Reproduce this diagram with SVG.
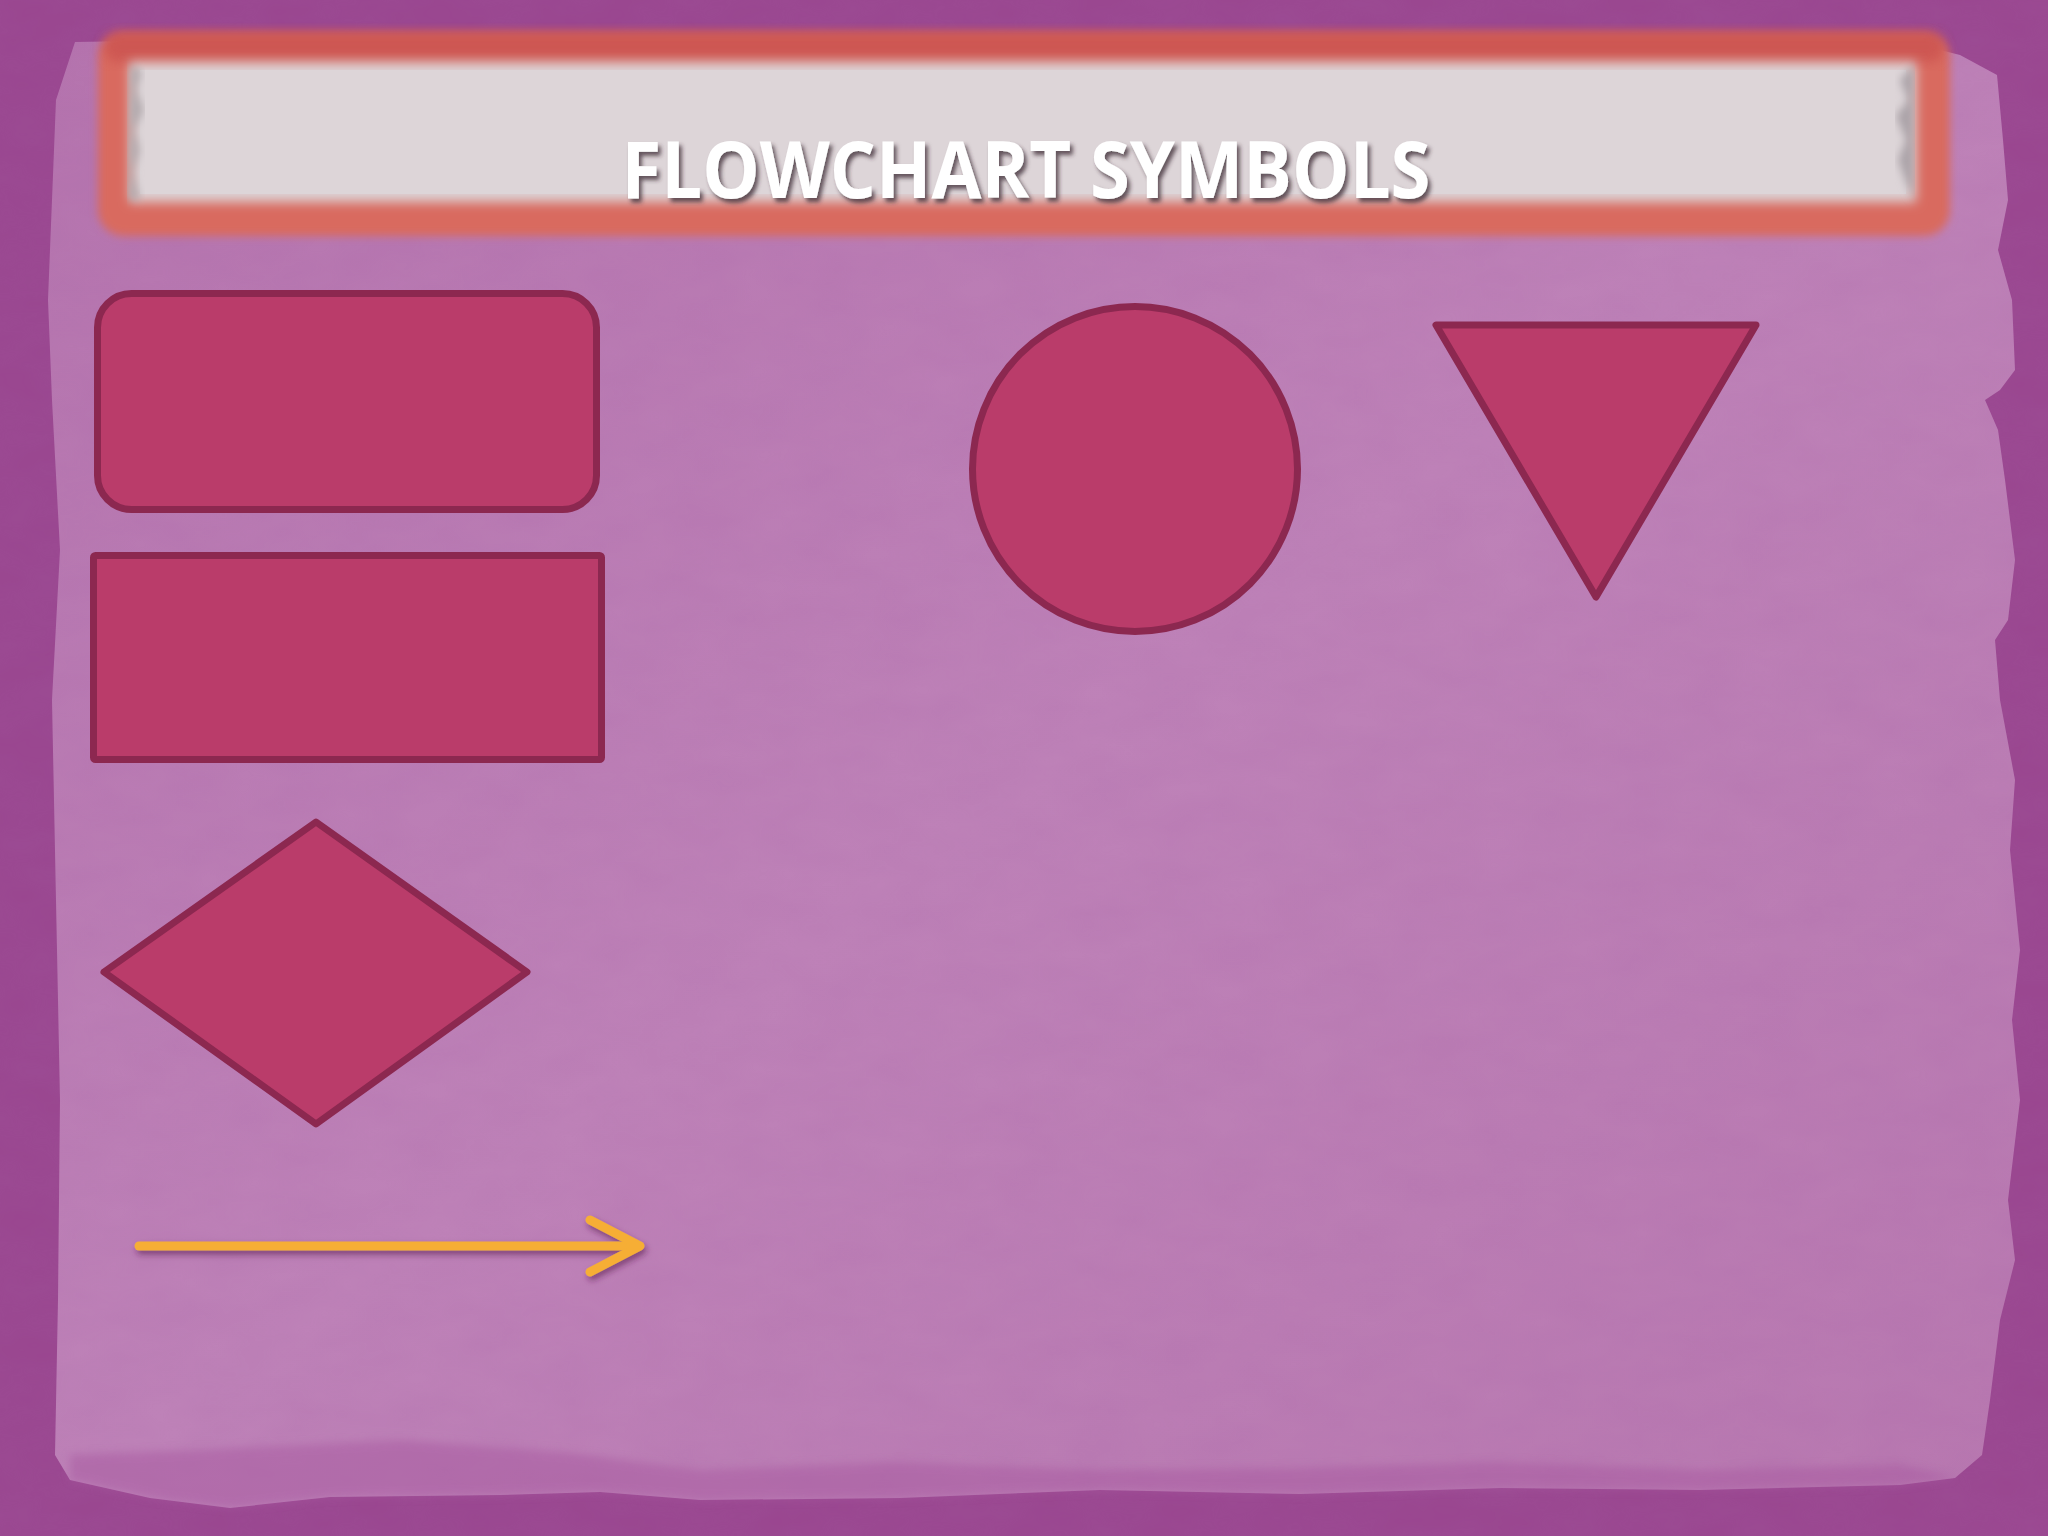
<svg xmlns="http://www.w3.org/2000/svg" width="2048" height="1536" viewBox="0 0 2048 1536">
  <defs>
    <style>
      .shape { fill: #BA3C6A; stroke: #8C2850; stroke-width: 7; stroke-linejoin: round; }
      .title { font-family: "Open Sans", "Liberation Sans", sans-serif; font-weight: 700; font-size: 78px; fill: #FFFFFF; }
      .flow { fill: none; stroke: #F6AE36; stroke-width: 9; stroke-linecap: round; stroke-linejoin: round; }
    </style>
    <filter id="grain" x="0" y="0" width="100%" height="100%">
      <feTurbulence type="fractalNoise" baseFrequency="0.015 0.03" numOctaves="3" seed="4" result="n"/>
      <feColorMatrix in="n" type="matrix" values="0 0 0 0 0.35  0 0 0 0 0.1  0 0 0 0 0.35  0 0 0 0.5 -0.1"/>
      <feComposite in2="SourceGraphic" operator="in"/>
    </filter>
    <filter id="blur6" x="-5%" y="-30%" width="110%" height="160%">
      <feGaussianBlur stdDeviation="6"/>
    </filter>
    <filter id="blur3" x="-5%" y="-30%" width="110%" height="160%">
      <feGaussianBlur stdDeviation="4"/>
    </filter>
    <filter id="tshadow" x="-5%" y="-20%" width="110%" height="150%">
      <feDropShadow dx="3" dy="4" stdDeviation="2" flood-color="#3a2a30" flood-opacity="0.75"/>
    </filter>
    <filter id="ashadow" x="-5%" y="-100%" width="110%" height="300%">
      <feDropShadow dx="2" dy="4" stdDeviation="3" flood-color="#5a2050" flood-opacity="0.6"/>
    </filter>
    <linearGradient id="paperShade" x1="0" y1="0" x2="1" y2="1">
      <stop offset="0" stop-color="#B574AE"/>
      <stop offset="0.5" stop-color="#BE82B8"/>
      <stop offset="1" stop-color="#B878B0"/>
    </linearGradient>
  </defs>

  <!-- background -->
  <rect x="0" y="0" width="2048" height="1536" fill="#9A4790"/>
  <rect x="0" y="0" width="2048" height="1536" fill="#9A4790" filter="url(#grain)" opacity="0.6"/>

  <!-- paper sheet -->
  <g id="paper">
    <path id="paperShape" d="M 75 42 L 200 40 L 400 44 L 700 38 L 1000 42 L 1300 38 L 1600 42 L 1900 40 L 1960 55 L 1997 75 L 2003 140 L 2008 200 L 1998 250 L 2012 300 L 2015 370 L 2000 390 L 1985 400 L 1998 430 L 2005 480 L 2015 560 L 2008 620 L 1995 640 L 2000 700 L 2015 780 L 2010 850 L 2020 950 L 2012 1020 L 2020 1100 L 2008 1200 L 2015 1260 L 2000 1320 L 1990 1400 L 1982 1455 L 1955 1478 L 1900 1485 L 1700 1490 L 1500 1488 L 1300 1494 L 1100 1490 L 900 1498 L 700 1500 L 600 1492 L 500 1495 L 330 1497 L 230 1508 L 150 1498 L 70 1480 L 55 1455 L 58 1300 L 60 1100 L 56 900 L 52 700 L 60 550 L 52 400 L 48 300 L 52 200 L 56 100 Z" fill="url(#paperShade)"/>
    <path d="M 75 42 L 200 40 L 400 44 L 700 38 L 1000 42 L 1300 38 L 1600 42 L 1900 40 L 1960 55 L 1997 75 L 2003 140 L 2008 200 L 1998 250 L 2012 300 L 2015 370 L 2000 390 L 1985 400 L 1998 430 L 2005 480 L 2015 560 L 2008 620 L 1995 640 L 2000 700 L 2015 780 L 2010 850 L 2020 950 L 2012 1020 L 2020 1100 L 2008 1200 L 2015 1260 L 2000 1320 L 1990 1400 L 1982 1455 L 1955 1478 L 1900 1485 L 1700 1490 L 1500 1488 L 1300 1494 L 1100 1490 L 900 1498 L 700 1500 L 600 1492 L 500 1495 L 330 1497 L 230 1508 L 150 1498 L 70 1480 L 55 1455 L 58 1300 L 60 1100 L 56 900 L 52 700 L 60 550 L 52 400 L 48 300 L 52 200 L 56 100 Z" fill="#B06AA8" filter="url(#grain)" opacity="0.3"/>
    <path d="M 70 1455 L 200 1450 L 400 1440 L 560 1452 L 700 1470 L 900 1462 L 1100 1470 L 1300 1468 L 1500 1462 L 1700 1470 L 1900 1465 L 1955 1478 L 1900 1485 L 1700 1490 L 1500 1488 L 1300 1494 L 1100 1490 L 900 1498 L 700 1500 L 600 1492 L 500 1495 L 330 1497 L 230 1508 L 150 1498 L 70 1480 Z" fill="#A85AA0" opacity="0.5" filter="url(#blur3)"/>
  </g>

  <!-- title banner -->
  <g id="title-banner">
    <rect x="98" y="32" width="1852" height="204" rx="26" fill="#D96B5F" filter="url(#blur3)"/>
    <rect x="104" y="32" width="1840" height="30" rx="14" fill="#C9504E" opacity="0.7" filter="url(#blur6)"/>
    <rect x="130" y="62" width="1786" height="140" fill="#DCD3D6" filter="url(#blur6)"/>
    <rect x="140" y="70" width="1766" height="124" fill="#DDD5D8"/>
    <path d="M 130 64 L 142 72 L 136 90 L 144 110 L 134 130 L 140 150 L 133 172 L 140 200 L 128 200 Z" fill="#B2AAAE" filter="url(#blur3)"/>
    <path d="M 1914 64 L 1900 80 L 1908 100 L 1896 116 L 1906 140 L 1898 160 L 1906 182 L 1914 200 Z" fill="#ABA3A8" filter="url(#blur3)"/>
    <text class="title" x="1026" y="198" text-anchor="middle" textLength="809" lengthAdjust="spacingAndGlyphs" filter="url(#tshadow)">FLOWCHART SYMBOLS</text>
  </g>

  <!-- nodes -->
  <g id="terminator">
    <rect class="shape" x="97.5" y="293.5" width="499" height="216" rx="34"/>
  </g>
  <g id="process">
    <rect class="shape" x="93.5" y="555.5" width="508" height="204" rx="2"/>
  </g>
  <g id="decision">
    <polygon class="shape" points="104,972 316,822 527,972 316,1124"/>
  </g>
  <g id="connector-circle">
    <circle class="shape" cx="1135" cy="469" r="162.5"/>
  </g>
  <g id="merge-triangle">
    <polygon class="shape" points="1436,325 1756,325 1596,597"/>
  </g>

  <!-- connectors -->
  <g id="connectors" filter="url(#ashadow)">
    <path class="flow" d="M 139 1246 L 638 1246"/>
    <path class="flow" d="M 590 1220 L 640 1246 L 590 1272"/>
  </g>
</svg>
